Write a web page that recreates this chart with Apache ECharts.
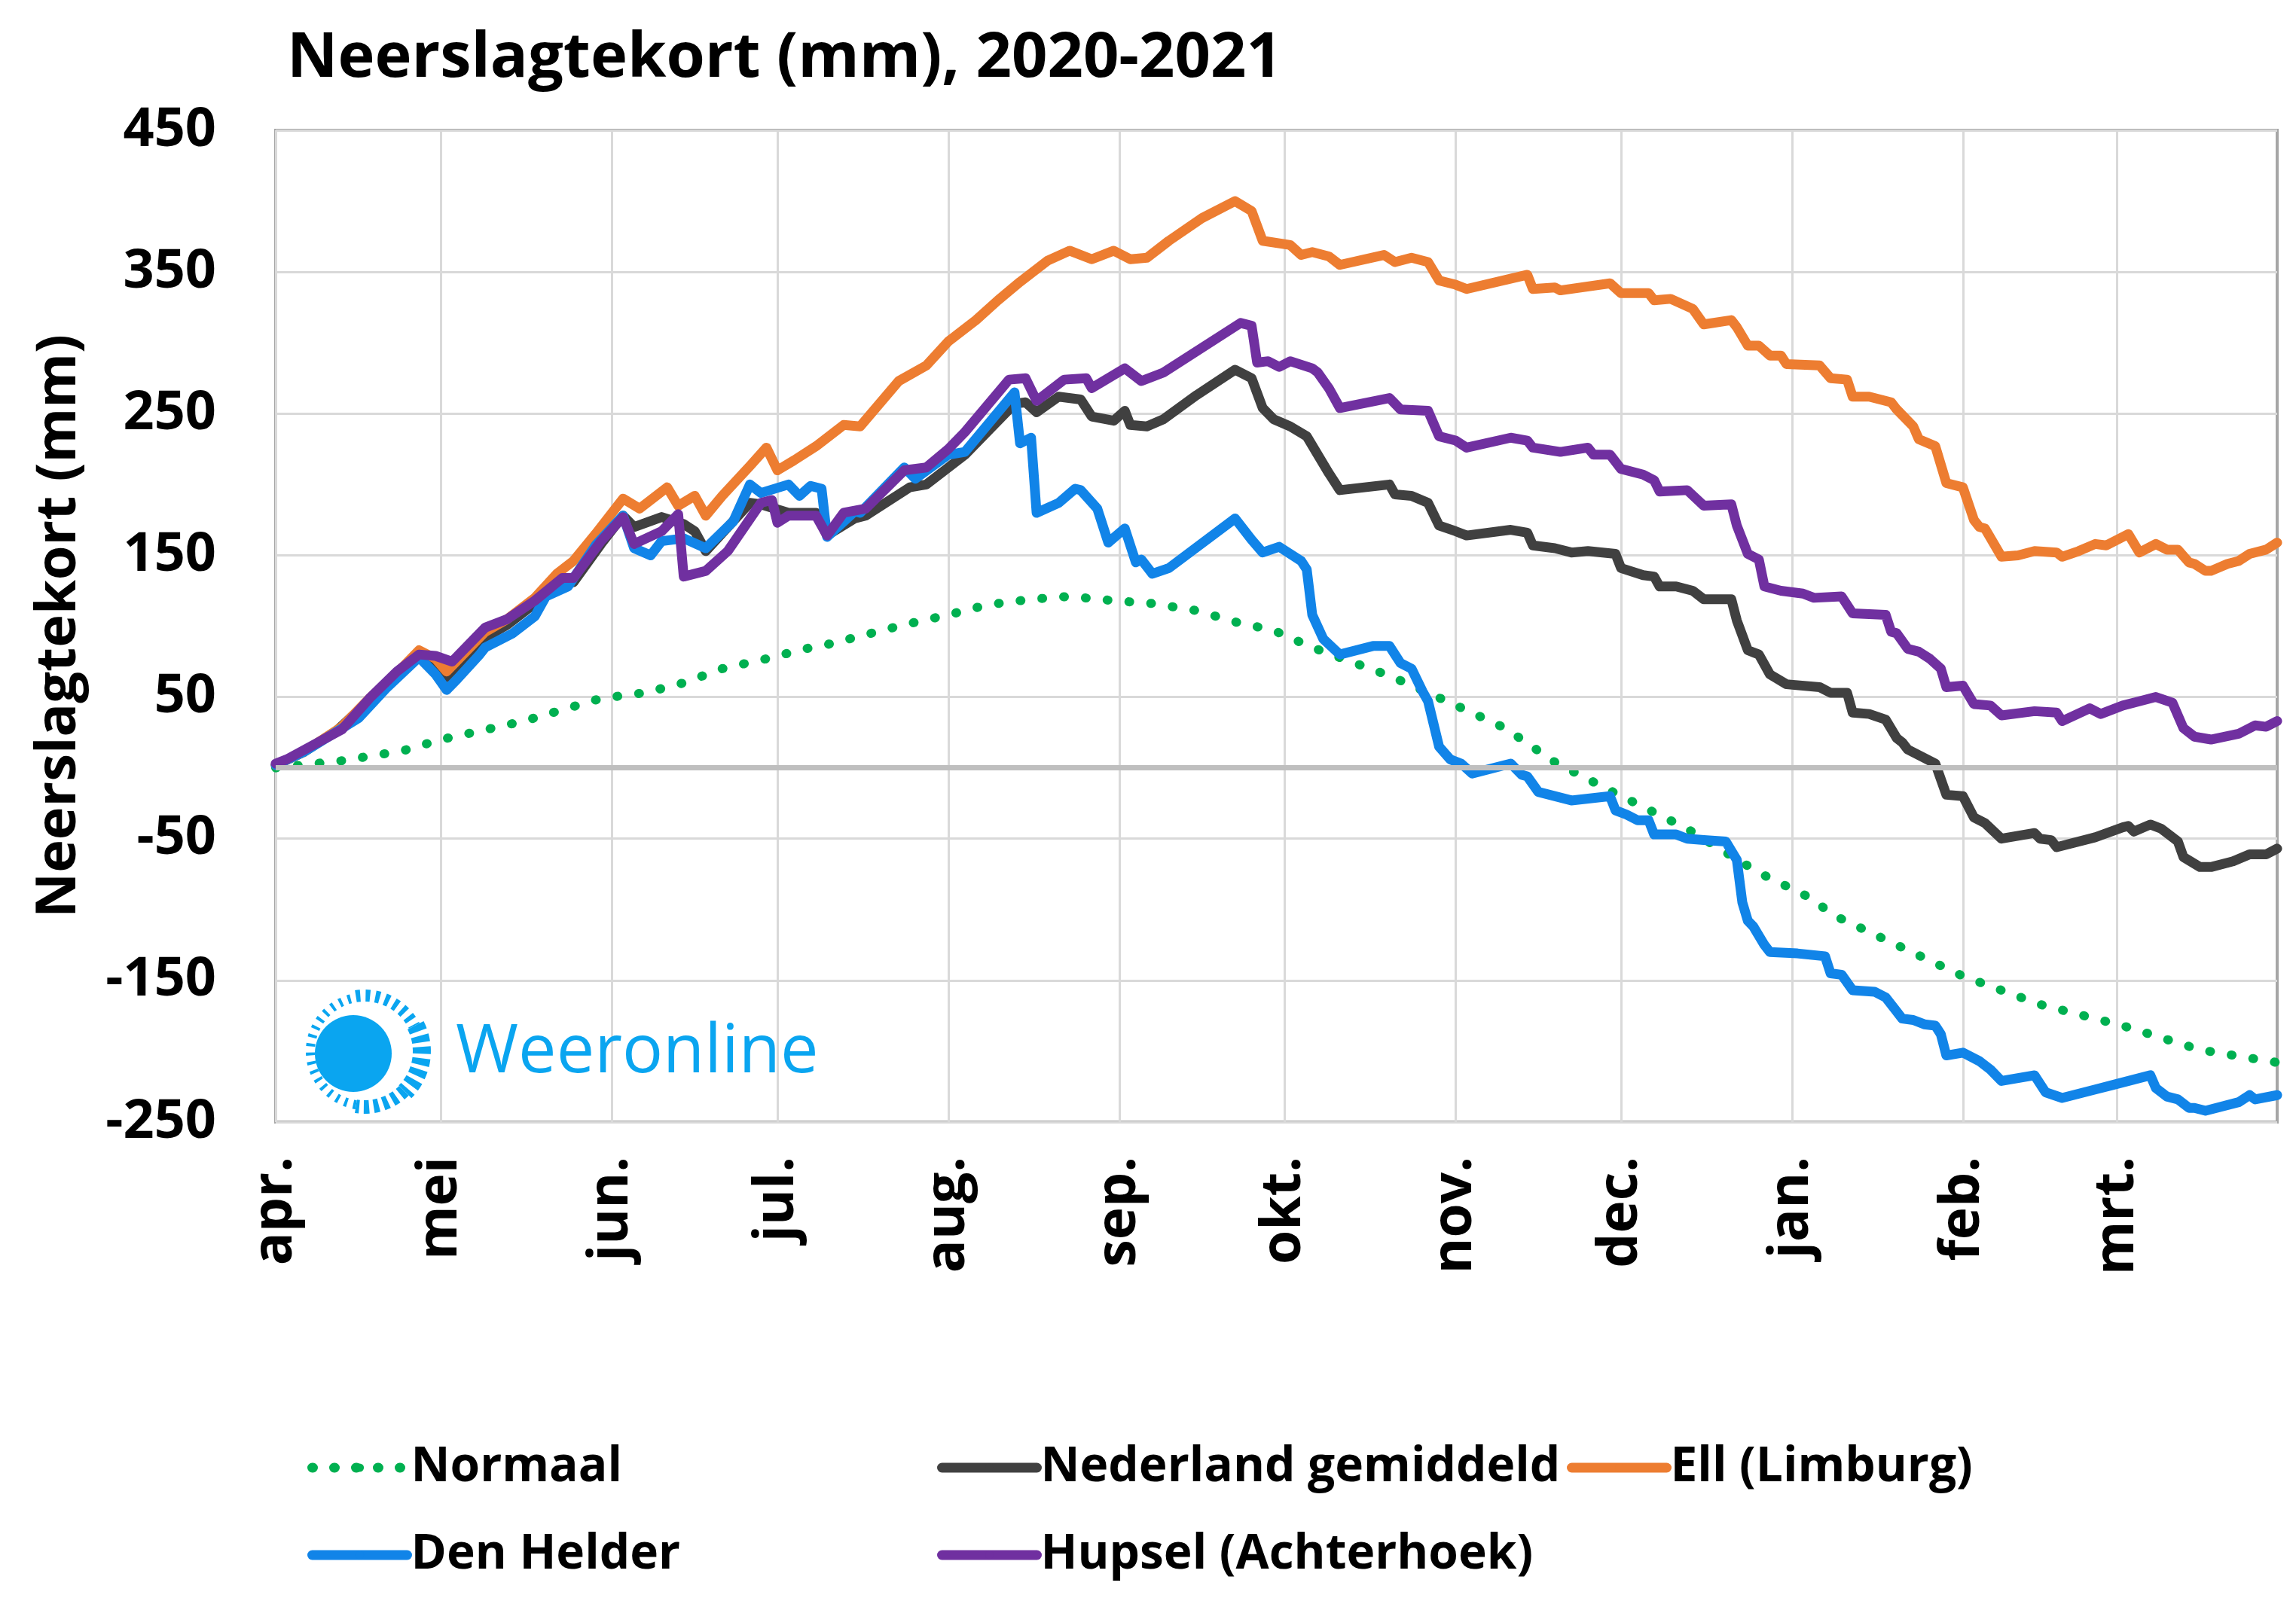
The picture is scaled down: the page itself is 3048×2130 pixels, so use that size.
<!DOCTYPE html>
<html>
<head>
<meta charset="utf-8">
<script src="https://cdn.jsdelivr.net/npm/echarts@6/dist/echarts.min.js"></script>
<style>
html, body { margin: 0; padding: 0; background: #fff; }
#chart { width: 3048px; height: 2130px; }
</style>
</head>
<body>
<div id="chart"></div>
<script>
// maanden op de x-as (dag-index vanaf 1 april 2020)
const monthLabels = ['apr.', 'mei', 'jun.', 'jul.', 'aug.', 'sep.', 'okt.', 'nov.', 'dec.', 'jan.', 'feb.', 'mrt.']
const monthStarts = [0, 30, 61, 91, 122, 153, 183, 214, 244, 275, 306, 334]
const dayCount = 364

// [dag, neerslagtekort mm]
const normaal = [[0,0],[12,5],[23,12],[30,20],[37,26],[45,33],[52,41],[59,49],[67,53],[74,60],[81,70],[89,77],[96,84],[100,87],[107,94],[114,101],[122,108],[129,115],[137,119],[144,121],[152,118],[159,116],[167,111],[174,103],[181,97],[188,85],[202,65],[213,46],[223,28],[232,4],[242,-16],[256,-43],[269,-74],[279,-93],[282,-103],[306,-147],[320,-167],[335,-182],[349,-199],[363,-208]]

const nederland = [[0,2],[5,11],[11,26],[16,44],[22,66],[26,79],[29,72],[31,64],[33,67],[38,92],[42,101],[47,116],[52,131],[54,131],[59,158],[63,178],[65,170],[70,177],[74,172],[76,167],[78,153],[86,187],[88,186],[93,180],[98,180],[100,164],[105,176],[107,178],[115,198],[118,200],[125,221],[134,257],[136,258],[138,251],[142,262],[146,260],[148,248],[152,245],[154,252],[155,242],[158,241],[161,246],[167,263],[174,281],[177,275],[179,254],[181,246],[184,241],[187,234],[189,221],[191,208],[193,196],[202,200],[203,193],[206,192],[209,187],[211,171],[214,167],[216,164],[224,168],[227,166],[228,157],[232,155],[235,152],[238,153],[243,151],[244,141],[248,136],[250,135],[251,128],[254,128],[257,125],[259,119],[264,119],[265,104],[267,83],[269,80],[271,66],[274,59],[280,57],[282,53],[285,53],[286,39],[289,38],[292,34],[294,21],[295,18],[296,13],[301,3],[303,-19],[306,-20],[308,-35],[310,-39],[313,-50],[319,-46],[320,-50],[322,-51],[323,-56],[330,-49],[335,-42],[336,-41],[337,-45],[340,-40],[342,-43],[345,-52],[346,-63],[349,-70],[351,-70],[355,-66],[358,-61],[361,-61],[363,-57]]

const ell = [[0,2],[5,11],[12,29],[17,49],[22,67],[26,83],[29,77],[31,68],[38,96],[42,105],[47,120],[51,137],[54,146],[58,165],[63,190],[66,183],[71,198],[73,185],[76,192],[78,178],[81,192],[86,213],[89,226],[91,210],[94,217],[98,227],[103,242],[106,241],[113,273],[118,284],[122,301],[127,316],[131,330],[135,343],[140,358],[144,365],[148,359],[152,365],[155,359],[158,360],[162,372],[168,388],[174,400],[177,393],[179,372],[184,369],[186,362],[188,364],[191,361],[193,355],[201,362],[203,357],[206,360],[209,357],[211,344],[214,341],[216,338],[227,348],[228,338],[232,339],[233,337],[242,342],[244,335],[249,335],[250,330],[253,331],[257,324],[259,313],[264,316],[265,311],[267,298],[269,298],[271,291],[273,291],[274,285],[280,284],[282,275],[285,274],[286,262],[289,262],[293,258],[294,253],[297,241],[298,232],[301,227],[303,201],[306,198],[308,175],[309,170],[310,169],[313,149],[316,150],[319,153],[323,152],[324,149],[327,153],[330,158],[332,157],[336,165],[338,152],[341,158],[343,154],[345,154],[347,145],[348,144],[350,139],[351,139],[354,144],[356,146],[358,151],[361,154],[363,159]]

const denHelder = [[0,2],[5,11],[15,35],[20,56],[26,78],[29,66],[31,55],[33,63],[37,80],[38,85],[43,95],[47,107],[49,121],[53,128],[58,157],[63,178],[65,155],[68,150],[70,160],[74,162],[78,155],[83,174],[86,200],[88,194],[93,200],[95,192],[97,199],[99,197],[100,163],[105,181],[106,180],[114,212],[116,204],[122,221],[125,223],[134,265],[135,229],[137,233],[138,180],[142,187],[145,197],[146,196],[149,183],[151,159],[154,169],[156,145],[157,147],[159,137],[162,141],[174,176],[177,161],[179,152],[182,156],[186,146],[187,140],[188,108],[190,91],[193,80],[199,86],[202,86],[204,74],[206,70],[208,54],[209,47],[211,15],[213,6],[215,3],[217,-4],[224,3],[226,-5],[227,-6],[229,-17],[235,-23],[242,-20],[243,-30],[245,-33],[247,-37],[249,-37],[250,-47],[254,-47],[256,-50],[259,-51],[263,-52],[265,-65],[266,-95],[267,-108],[268,-112],[270,-125],[271,-130],[276,-131],[281,-133],[282,-145],[284,-146],[286,-157],[290,-158],[292,-162],[294,-172],[295,-177],[297,-178],[299,-181],[301,-182],[302,-188],[303,-203],[306,-201],[309,-207],[311,-213],[313,-221],[319,-217],[321,-229],[324,-233],[330,-227],[333,-224],[340,-217],[341,-226],[343,-232],[345,-234],[347,-240],[348,-240],[350,-242],[356,-236],[358,-231],[359,-234],[363,-231]]

const hupsel = [[0,3],[2,6],[12,27],[17,49],[22,68],[26,80],[29,79],[32,75],[38,99],[42,105],[47,118],[52,134],[54,134],[59,160],[63,177],[65,158],[70,167],[73,179],[74,135],[78,139],[82,153],[88,187],[90,189],[91,173],[93,178],[98,178],[100,164],[103,180],[107,183],[114,210],[118,212],[122,225],[125,237],[133,274],[136,275],[138,259],[143,274],[147,275],[148,268],[154,282],[157,273],[161,279],[175,314],[177,312],[178,286],[180,287],[182,283],[184,287],[188,282],[189,279],[191,268],[193,254],[202,261],[204,253],[209,252],[211,234],[214,231],[216,226],[224,233],[227,231],[228,226],[233,223],[238,226],[239,221],[242,221],[244,211],[248,207],[250,203],[251,195],[256,196],[259,185],[264,186],[265,171],[267,151],[269,147],[270,128],[273,125],[277,123],[279,120],[284,121],[286,109],[292,108],[293,96],[294,95],[296,84],[298,82],[300,77],[302,70],[303,57],[306,58],[308,45],[311,44],[313,37],[319,40],[323,39],[324,33],[329,42],[331,38],[335,44],[338,47],[341,50],[344,46],[346,28],[348,22],[351,20],[356,24],[359,30],[361,29],[363,33]]

const days = Array.from({ length: dayCount }, (_, i) => i)
const isMonthStart = (i) => monthStarts.includes(i)

const FONT = '"Open Sans", "Noto Sans", sans-serif'
const BLUE_LOGO = '#0aa5f0'

const myChart = echarts.init(document.getElementById('chart'))

const lineSeries = (name, data, color, extra) => Object.assign({
  name: name,
  type: 'line',
  data: data,
  symbol: 'none',
  showSymbol: false,
  lineStyle: { color: color, width: 13, join: 'round', cap: 'round' },
  itemStyle: { color: color },
  emphasis: { disabled: true }
}, extra || {})

const legendBase = {
  orient: 'vertical',
  top: 1911,
  padding: 0,
  itemWidth: 126,
  itemHeight: 14,
  itemGap: 40,
  lineStyle: { width: 13 },
  textStyle: { fontSize: 64, fontWeight: 'bold', fontFamily: FONT, color: '#000', lineHeight: 76 }
}

const option = {
  animation: false,
  backgroundColor: '#fff',
  title: {
    text: 'Neerslagtekort (mm), 2020-2021',
    left: 381,
    top: 37,
    padding: 0,
    textStyle: { fontSize: 83, fontWeight: 'bold', fontFamily: FONT, color: '#000' }
  },
  legend: [
    Object.assign({ left: 408, data: ['Normaal', 'Den Helder'] }, legendBase),
    Object.assign({ left: 1244, data: ['Nederland gemiddeld', 'Hupsel (Achterhoek)'] }, legendBase),
    Object.assign({ left: 2080, data: ['Ell (Limburg)'] }, legendBase)
  ],
  grid: {
    left: 366, right: 25, top: 173, bottom: 640,
    show: true, borderColor: '#a6a6a6', borderWidth: 4,
    outerBoundsMode: 'none'
  },
  xAxis: {
    type: 'category',
    data: days,
    boundaryGap: false,
    axisLine: { show: false },
    axisTick: { show: false },
    axisLabel: {
      interval: (i) => isMonthStart(i),
      rotate: 90,
      margin: 46,
      formatter: (v, i) => monthLabels[monthStarts.indexOf(i)],
      fontSize: 73, fontWeight: 'bold', fontFamily: FONT, color: '#000'
    },
    splitLine: { show: true, interval: (i) => isMonthStart(i), lineStyle: { color: '#d9d9d9', width: 3 } }
  },
  yAxis: {
    type: 'value',
    min: -250, max: 450, interval: 100,
    name: 'Neerslagtekort (mm)',
    nameLocation: 'middle',
    nameRotate: 90,
    nameGap: 250,
    nameTextStyle: { fontSize: 74, fontWeight: 'bold', fontFamily: FONT, color: '#000' },
    axisLine: { show: false },
    axisTick: { show: false },
    axisLabel: { margin: 79, fontSize: 72, fontWeight: 'bold', fontFamily: FONT, color: '#000' },
    splitLine: { lineStyle: { color: '#d9d9d9', width: 3 } }
  },
  graphic: [
    // Weeronline logo
    { type: 'circle', z: 1, shape: { cx: 469, cy: 1399, r: 51 }, style: { fill: BLUE_LOGO } },
    { type: 'arc', z: 1, shape: { cx: 484, cy: 1396, r: 72, startAngle: 0.55 * Math.PI, endAngle: 1.45 * Math.PI }, style: { fill: null, stroke: BLUE_LOGO, lineWidth: 12, lineDash: [4, 8] } },
    { type: 'arc', z: 1, shape: { cx: 484, cy: 1396, r: 74, startAngle: 1.45 * Math.PI, endAngle: 1.85 * Math.PI }, style: { fill: null, stroke: BLUE_LOGO, lineWidth: 16, lineDash: [6, 7] } },
    { type: 'arc', z: 1, shape: { cx: 484, cy: 1396, r: 76, startAngle: -0.15 * Math.PI, endAngle: 0.25 * Math.PI }, style: { fill: null, stroke: BLUE_LOGO, lineWidth: 24, lineDash: [9, 6] } },
    { type: 'arc', z: 1, shape: { cx: 484, cy: 1396, r: 74, startAngle: 0.25 * Math.PI, endAngle: 0.55 * Math.PI }, style: { fill: null, stroke: BLUE_LOGO, lineWidth: 18, lineDash: [7, 6] } },
    { type: 'text', z: 1, style: { text: 'Weeronline', x: 605, y: 1398, fill: BLUE_LOGO, font: '90px "Open Sans", sans-serif', verticalAlign: 'middle' } }
  ],
  series: [
    lineSeries('Normaal', normaal, '#00b050', {
      lineStyle: { color: '#00b050', width: 12, type: [1, 28], cap: 'round' },
      markLine: {
        silent: true, symbol: 'none', label: { show: false },
        lineStyle: { color: '#bfbfbf', width: 7, type: 'solid' },
        data: [{ yAxis: 0 }]
      }
    }),
    lineSeries('Nederland gemiddeld', nederland, '#404040'),
    lineSeries('Ell (Limburg)', ell, '#ed7d31'),
    lineSeries('Den Helder', denHelder, '#1184e8'),
    lineSeries('Hupsel (Achterhoek)', hupsel, '#7030a0')
  ]
}

myChart.setOption(option)
</script>
</body>
</html>
